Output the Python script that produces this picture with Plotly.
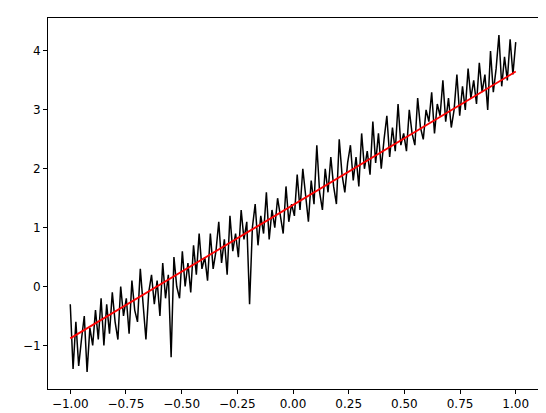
import numpy as np
import plotly.graph_objects as go

y_vals = [
    -0.3, -1.4, -0.6, -1.35, -0.9, -0.5, -1.45, -0.7, -1.0, -0.4,
    -0.9, -0.2, -1.0, -0.3, -0.8, -0.1, -0.6, -0.9, 0.0, -0.5,
    -0.2, -0.8, 0.1, -0.4, -0.6, 0.3, -0.3, -0.9, -0.1, 0.2,
    -0.3, 0.1, -0.5, 0.4, -0.2, 0.2, -1.2, 0.5, 0.0, -0.2,
    0.6, 0.0, 0.4, -0.1, 0.7, 0.2, 0.9, 0.3, 0.5, 0.1,
    0.9, 0.3, 0.6, 1.1, 0.4, 0.8, 0.2, 1.2, 0.6, 0.9,
    0.5, 1.3, 0.8, 1.1, -0.3, 1.0, 1.4, 0.7, 1.2, 0.9,
    1.6, 0.8, 1.3, 1.0, 1.5, 1.2, 0.9, 1.7, 1.1, 1.4,
    1.2, 1.9, 1.3, 2.0, 1.5, 1.1, 1.8, 1.4, 2.4, 1.6,
    1.3, 2.0, 1.6, 2.2, 1.7, 1.4, 2.5, 1.9, 1.6, 2.1,
    2.4, 1.8, 2.2, 1.7, 2.6, 2.0, 2.3, 1.9, 2.8, 2.1,
    2.6, 2.0, 2.5, 2.9, 2.2, 2.7, 2.3, 3.1, 2.4, 2.6,
    2.3, 3.0, 2.6, 2.4, 3.2, 2.7, 2.5, 3.0, 2.8, 3.3,
    2.6, 3.1, 2.9, 3.5, 2.8, 3.2, 2.7, 3.0, 3.6, 2.9,
    3.4, 3.0, 3.7, 3.2, 3.5, 3.1, 3.8, 3.3, 3.6, 3.0,
    4.0, 3.3, 3.7, 4.27, 3.4, 3.9, 3.5, 4.2, 3.6, 4.15,
]
x_vals = np.linspace(-1, 1, len(y_vals))

# fitted line
fit_x = [-1.0, 1.0]
fit_y = [-0.88, 3.65]

fig = go.Figure()
fig.add_scatter(x=x_vals, y=y_vals, mode="lines", line=dict(color="black", width=1.5))
fig.add_scatter(x=fit_x, y=fit_y, mode="lines", line=dict(color="red", width=1.8))

axis = dict(showgrid=False, zeroline=False, showline=True, linecolor="black",
            linewidth=1, mirror=True, ticks="outside", ticklen=4, tickcolor="black")
fig.update_xaxes(range=[-1.1, 1.1], tickvals=[-1, -0.75, -0.5, -0.25, 0, 0.25, 0.5, 0.75, 1],
                 tickformat=".2f", **axis)
fig.update_yaxes(range=[-1.74, 4.56], tickvals=[-1, 0, 1, 2, 3, 4], **axis)
fig.update_layout(width=546, height=413, showlegend=False, plot_bgcolor="white",
                  paper_bgcolor="white", margin=dict(l=40, r=16, t=10, b=32),
                  font=dict(family="DejaVu Sans", size=12, color="black"))
fig.write_html("out.html")
